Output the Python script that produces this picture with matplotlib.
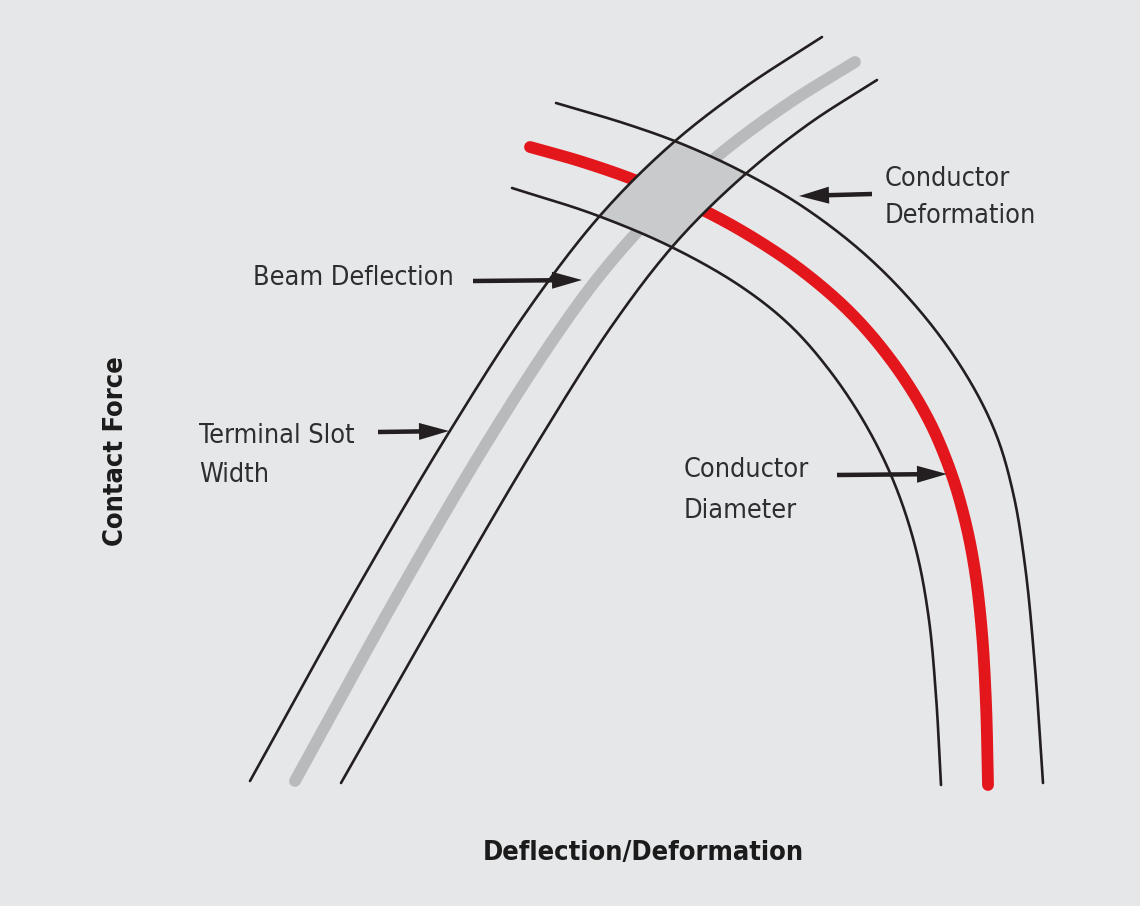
import numpy as np
import matplotlib
matplotlib.use('Agg')
import matplotlib.pyplot as plt
from matplotlib import font_manager
from matplotlib.font_manager import FontProperties
from matplotlib.patches import Polygon

# traced curves, in pixel units of the graphic (y grows downward)
beam_left_x = [250, 363, 447, 540, 597, 672, 740, 822]
beam_left_y = [781, 573, 432, 285, 212, 138, 87, 37]

beam_mid_x = [295, 408, 490, 570, 593, 650, 717, 790, 855]
beam_mid_y = [781, 572, 432, 313, 281, 213, 152, 99, 62]

beam_right_x = [341, 463, 537, 625, 670, 745, 807, 877]
beam_right_y = [783, 567, 440, 300, 242, 171, 120, 80]

cond_mid_x = [530, 580, 630, 703, 740, 807, 857, 900, 933, 953, 966, 975, 983, 987, 988]
cond_mid_y = [147, 160, 176, 208, 228, 270, 313, 368, 420, 473, 520, 560, 627, 700, 785]

cond_outer_x = [556, 640, 672, 745, 800, 873, 927, 973, 1000, 1015, 1026, 1035, 1043]
cond_outer_y = [103, 127, 138, 171, 200, 255, 313, 380, 432, 490, 560, 650, 783]

cond_inner_x = [512, 597, 670, 753, 790, 833, 870, 897, 920, 930, 937, 941]
cond_inner_y = [188, 212, 242, 290, 320, 370, 427, 480, 553, 610, 693, 785]

# labels: (text, x, baseline y)
labels = [
    ('Conductor', 885, 186), ('Deformation', 885, 223),
    ('Beam Deflection', 253, 285),
    ('Terminal Slot', 199, 443), ('Width', 199, 482),
    ('Conductor', 684, 477), ('Diameter', 684, 518),
]
# arrows: (tail x, tail y, tip x, tip y)
arrows = [
    (872, 194, 799, 196),
    (473, 281, 582, 280),
    (378, 432, 449, 431),
    (837, 475, 947, 474),
]

BG = '#e6e7e9'
INK = '#231f20'


def narrow_font(bold):
    # prefer a condensed sans if one is installed, else Liberation Sans
    want = 700 if bold else 400
    best = None
    for f in font_manager.fontManager.ttflist:
        tag = (f.name + ' ' + f.fname).lower()
        if 'mono' in tag or 'serif' in tag.replace('sans', ''):
            continue
        if not ('narrow' in tag or 'condensed' in tag):
            continue
        if f.style != 'normal':
            continue
        w = f.weight if isinstance(f.weight, int) else (700 if 'bold' in str(f.weight) else 400)
        if abs(w - want) > 100:
            continue
        score = 0 if 'liberation' in tag else 1
        if best is None or score < best[0]:
            best = (score, f.fname)
    if best:
        return FontProperties(fname=best[1])
    return FontProperties(family=['Liberation Sans', 'DejaVu Sans'],
                          weight='bold' if bold else 'normal')


def smooth(xs, ys, steps=20, passes=2, k=0.35):
    p = np.column_stack([xs, ys]).astype(float)
    # take the jitter out of the hand-read points, ends stay put
    for _ in range(passes):
        q = p.copy()
        q[1:-1] += k * (0.5 * (p[:-2] + p[2:]) - p[1:-1])
        p = q
    # centripetal catmull-rom through them
    p = np.vstack([2 * p[0] - p[1], p, 2 * p[-1] - p[-2]])
    out = []
    for i in range(1, len(p) - 2):
        p0, p1, p2, p3 = p[i - 1], p[i], p[i + 1], p[i + 2]
        t0 = 0.0
        t1 = t0 + np.linalg.norm(p1 - p0) ** 0.5
        t2 = t1 + np.linalg.norm(p2 - p1) ** 0.5
        t3 = t2 + np.linalg.norm(p3 - p2) ** 0.5
        t = np.linspace(t1, t2, steps, endpoint=False)[:, None]
        a1 = (t1 - t) / (t1 - t0) * p0 + (t - t0) / (t1 - t0) * p1
        a2 = (t2 - t) / (t2 - t1) * p1 + (t - t1) / (t2 - t1) * p2
        a3 = (t3 - t) / (t3 - t2) * p2 + (t - t2) / (t3 - t2) * p3
        b1 = (t2 - t) / (t2 - t0) * a1 + (t - t0) / (t2 - t0) * a2
        b2 = (t3 - t) / (t3 - t1) * a2 + (t - t1) / (t3 - t1) * a3
        out.append((t2 - t) / (t2 - t1) * b1 + (t - t1) / (t2 - t1) * b2)
    out.append(p[-2][None])
    return np.vstack(out)


fig = plt.figure(figsize=(11.4, 9.06), dpi=100, facecolor=BG)
ax = fig.add_axes([0, 0, 1, 1])
ax.set_facecolor(BG)
ax.set_xlim(0, 1140)
ax.set_ylim(906, 0)
ax.axis('off')

bl = smooth(beam_left_x, beam_left_y)
bm = smooth(beam_mid_x, beam_mid_y)
br = smooth(beam_right_x, beam_right_y)
cm = smooth(cond_mid_x, cond_mid_y)
co = smooth(cond_outer_x, cond_outer_y)
ci = smooth(cond_inner_x, cond_inner_y)

ax.plot(bm[:, 0], bm[:, 1], color='#b9babc', lw=8.5, solid_capstyle='round', zorder=2)
ax.plot(cm[:, 0], cm[:, 1], color='#e3161b', lw=8.5, solid_capstyle='round', zorder=2)

# overlap of the two bands
cond_band = Polygon(np.vstack([co, ci[::-1]]), transform=ax.transData)
overlap = Polygon(np.vstack([bl, br[::-1]]), closed=True, facecolor='#c9cacc',
                  edgecolor='none', zorder=3)
ax.add_patch(overlap)
overlap.set_clip_path(cond_band)

for c in (bl, br, co, ci):
    ax.plot(c[:, 0], c[:, 1], color=INK, lw=1.9, solid_capstyle='round', zorder=4)

for x0, y0, x1, y1 in arrows:
    ax.arrow(x0, y0, x1 - x0, y1 - y0, width=4.5, head_width=17, head_length=30,
             length_includes_head=True, color=INK, lw=0, zorder=5)

# size the fonts so that text widths match the original
renderer = fig.canvas.get_renderer()
reg = narrow_font(False)
bold = narrow_font(True)


def fit_size(fp, text, width_px):
    probe = ax.text(0, 0, text, fontproperties=fp, fontsize=20)
    w = probe.get_window_extent(renderer).width
    probe.remove()
    return 20 * width_px / w


reg_size = min(fit_size(reg, 'Beam Deflection', 201), 25)
bold_size = min(fit_size(bold, 'Deflection/Deformation', 323), 27)

for txt, x, y in labels:
    ax.text(x, y, txt, fontproperties=reg, fontsize=reg_size, color='#2e2e30',
            ha='left', va='baseline')

ax.text(643, 860, 'Deflection/Deformation', fontproperties=bold, fontsize=bold_size,
        color='#1b1b1b', ha='center', va='baseline')
ax.text(116, 451, 'Contact Force', fontproperties=bold, fontsize=bold_size,
        color='#1b1b1b', ha='center', va='center', rotation=90)

fig.savefig('out.png', dpi=100, facecolor=BG)
